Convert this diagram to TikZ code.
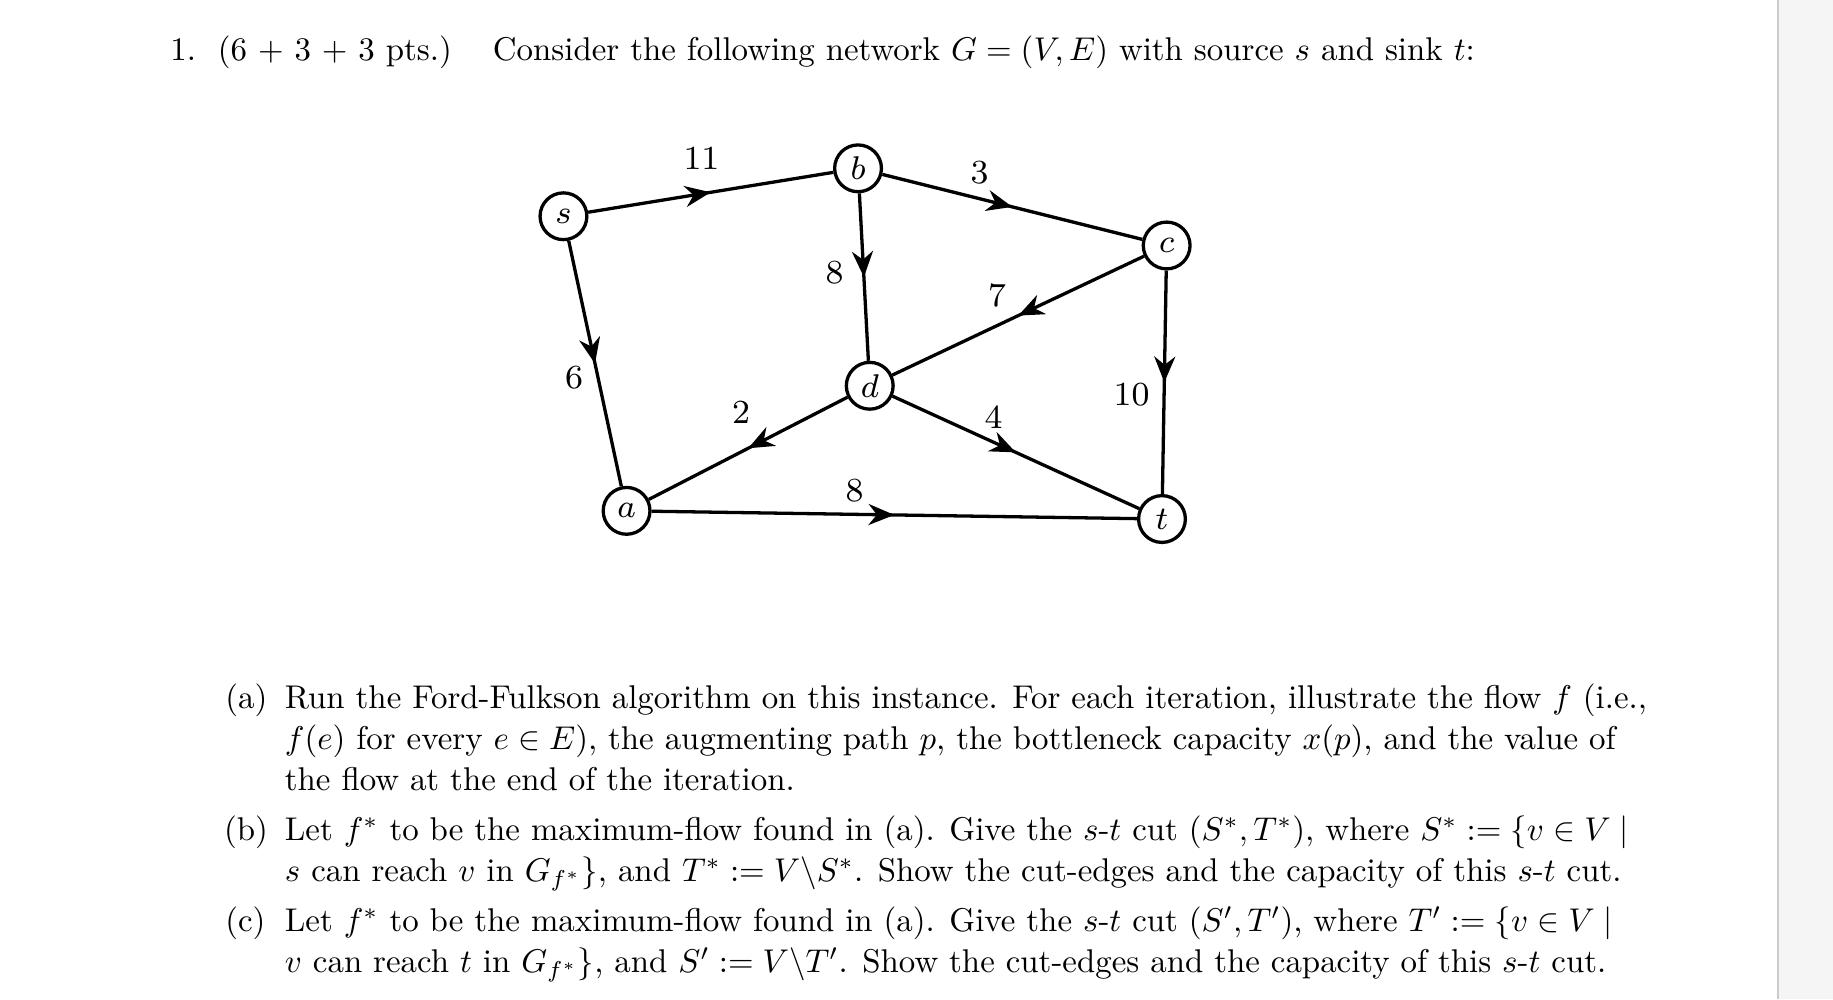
\documentclass[tikz,border=0pt]{standalone}
\usetikzlibrary{decorations.markings,arrows.meta}
\newcommand{\mytx}[1]{\scalebox{0.8}{\fontsize{10}{12}\selectfont #1}}
\begin{document}
\begin{tikzpicture}[x=0.01cm,y=-0.01cm,
 v/.style={circle,draw,thick,minimum size=0.4cm,inner sep=0pt,font=\fontsize{8.2}{9}\selectfont\itshape},
 e/.style={thick,postaction={decorate},decoration={markings,mark=at position #1 with {\arrow{Stealth[length=2.2mm,width=1.8mm]}}}},
 e/.default=0.55,
 lab/.style={font=\fontsize{8.2}{9}\selectfont},
 tx/.style={anchor=base west,inner sep=0pt}]
\useasboundingbox (0,0) rectangle (1568,855);
\fill[gray!8] (1521,0) rectangle (1568,855);
\draw[gray!40] (1521,0) -- (1521,855);
\node[v] (s) at (482,185) {$s$};
\node[v] (b) at (734,144) {$b$};
\node[v] (c) at (998,210) {$c$};
\node[v] (d) at (744,330) {$d$};
\node[v] (a) at (536,437) {$a$};
\node[v] (t) at (994,444) {$t$};
\draw[e=0.5] (s) -- (b);
\draw[e=0.5] (b) -- (c);
\draw[e=0.5] (b) -- (d);
\draw[e=0.5] (c) -- (d);
\draw[e=0.5] (s) -- (a);
\draw[e=0.5] (d) -- (a);
\draw[e=0.5] (d) -- (t);
\draw[e=0.5] (a) -- (t);
\draw[e=0.5] (c) -- (t);
\node[lab] (l1) at (600,135) {11};
\node[lab] (l2) at (838,148) {3};
\node[lab] (l3) at (714,233) {8};
\node[lab] (l4) at (853,253) {7};
\node[lab] (l5) at (491,323) {6};
\node[lab] (l6) at (634,353) {2};
\node[lab] (l7) at (850,357) {4};
\node[lab] (l8) at (731,420) {8};
\node[lab] (l9) at (968,338) {10};
\node[tx] (h1) at (145,52) {\mytx{1.\ \ (6 + 3 + 3 pts.)}};
\node[tx] (h2) at (421,52) {\mytx{Consider the following network $G=(V,E)$ with source $s$ and sink $t$:}};
\node[tx] (a0) at (192,606) {\mytx{(a)}};
\node[tx] (a1) at (243,606) {\mytx{Run the Ford-Fulkson algorithm on this instance. For each iteration, illustrate the flow $f$ (i.e.,}};
\node[tx] (a2) at (243,641) {\mytx{$f(e)$ for every $e\in E$), the augmenting path $p$, the bottleneck capacity $x(p)$, and the value of}};
\node[tx] (a3) at (243,676) {\mytx{the flow at the end of the iteration.}};
\node[tx] (b0) at (191,719) {\mytx{(b)}};
\node[tx] (b1) at (243,719) {\mytx{Let $f^*$ to be the maximum-flow found in (a). Give the $s$-$t$ cut $(S^*,T^*)$, where $S^*:=\{v\in V\mid$}};
\node[tx] (b2) at (243,754) {\mytx{$s$ can reach $v$ in $G_{f^*}\}$, and $T^*:=V\backslash S^*$. Show the cut-edges and the capacity of this $s$-$t$ cut.}};
\node[tx] (c0) at (192,797) {\mytx{(c)}};
\node[tx] (c1) at (243,797) {\mytx{Let $f^*$ to be the maximum-flow found in (a). Give the $s$-$t$ cut $(S',T')$, where $T':=\{v\in V\mid$}};
\node[tx] (c2) at (243,832) {\mytx{$v$ can reach $t$ in $G_{f^*}\}$, and $S':=V\backslash T'$. Show the cut-edges and the capacity of this $s$-$t$ cut.}};
\end{tikzpicture}
\end{document}
